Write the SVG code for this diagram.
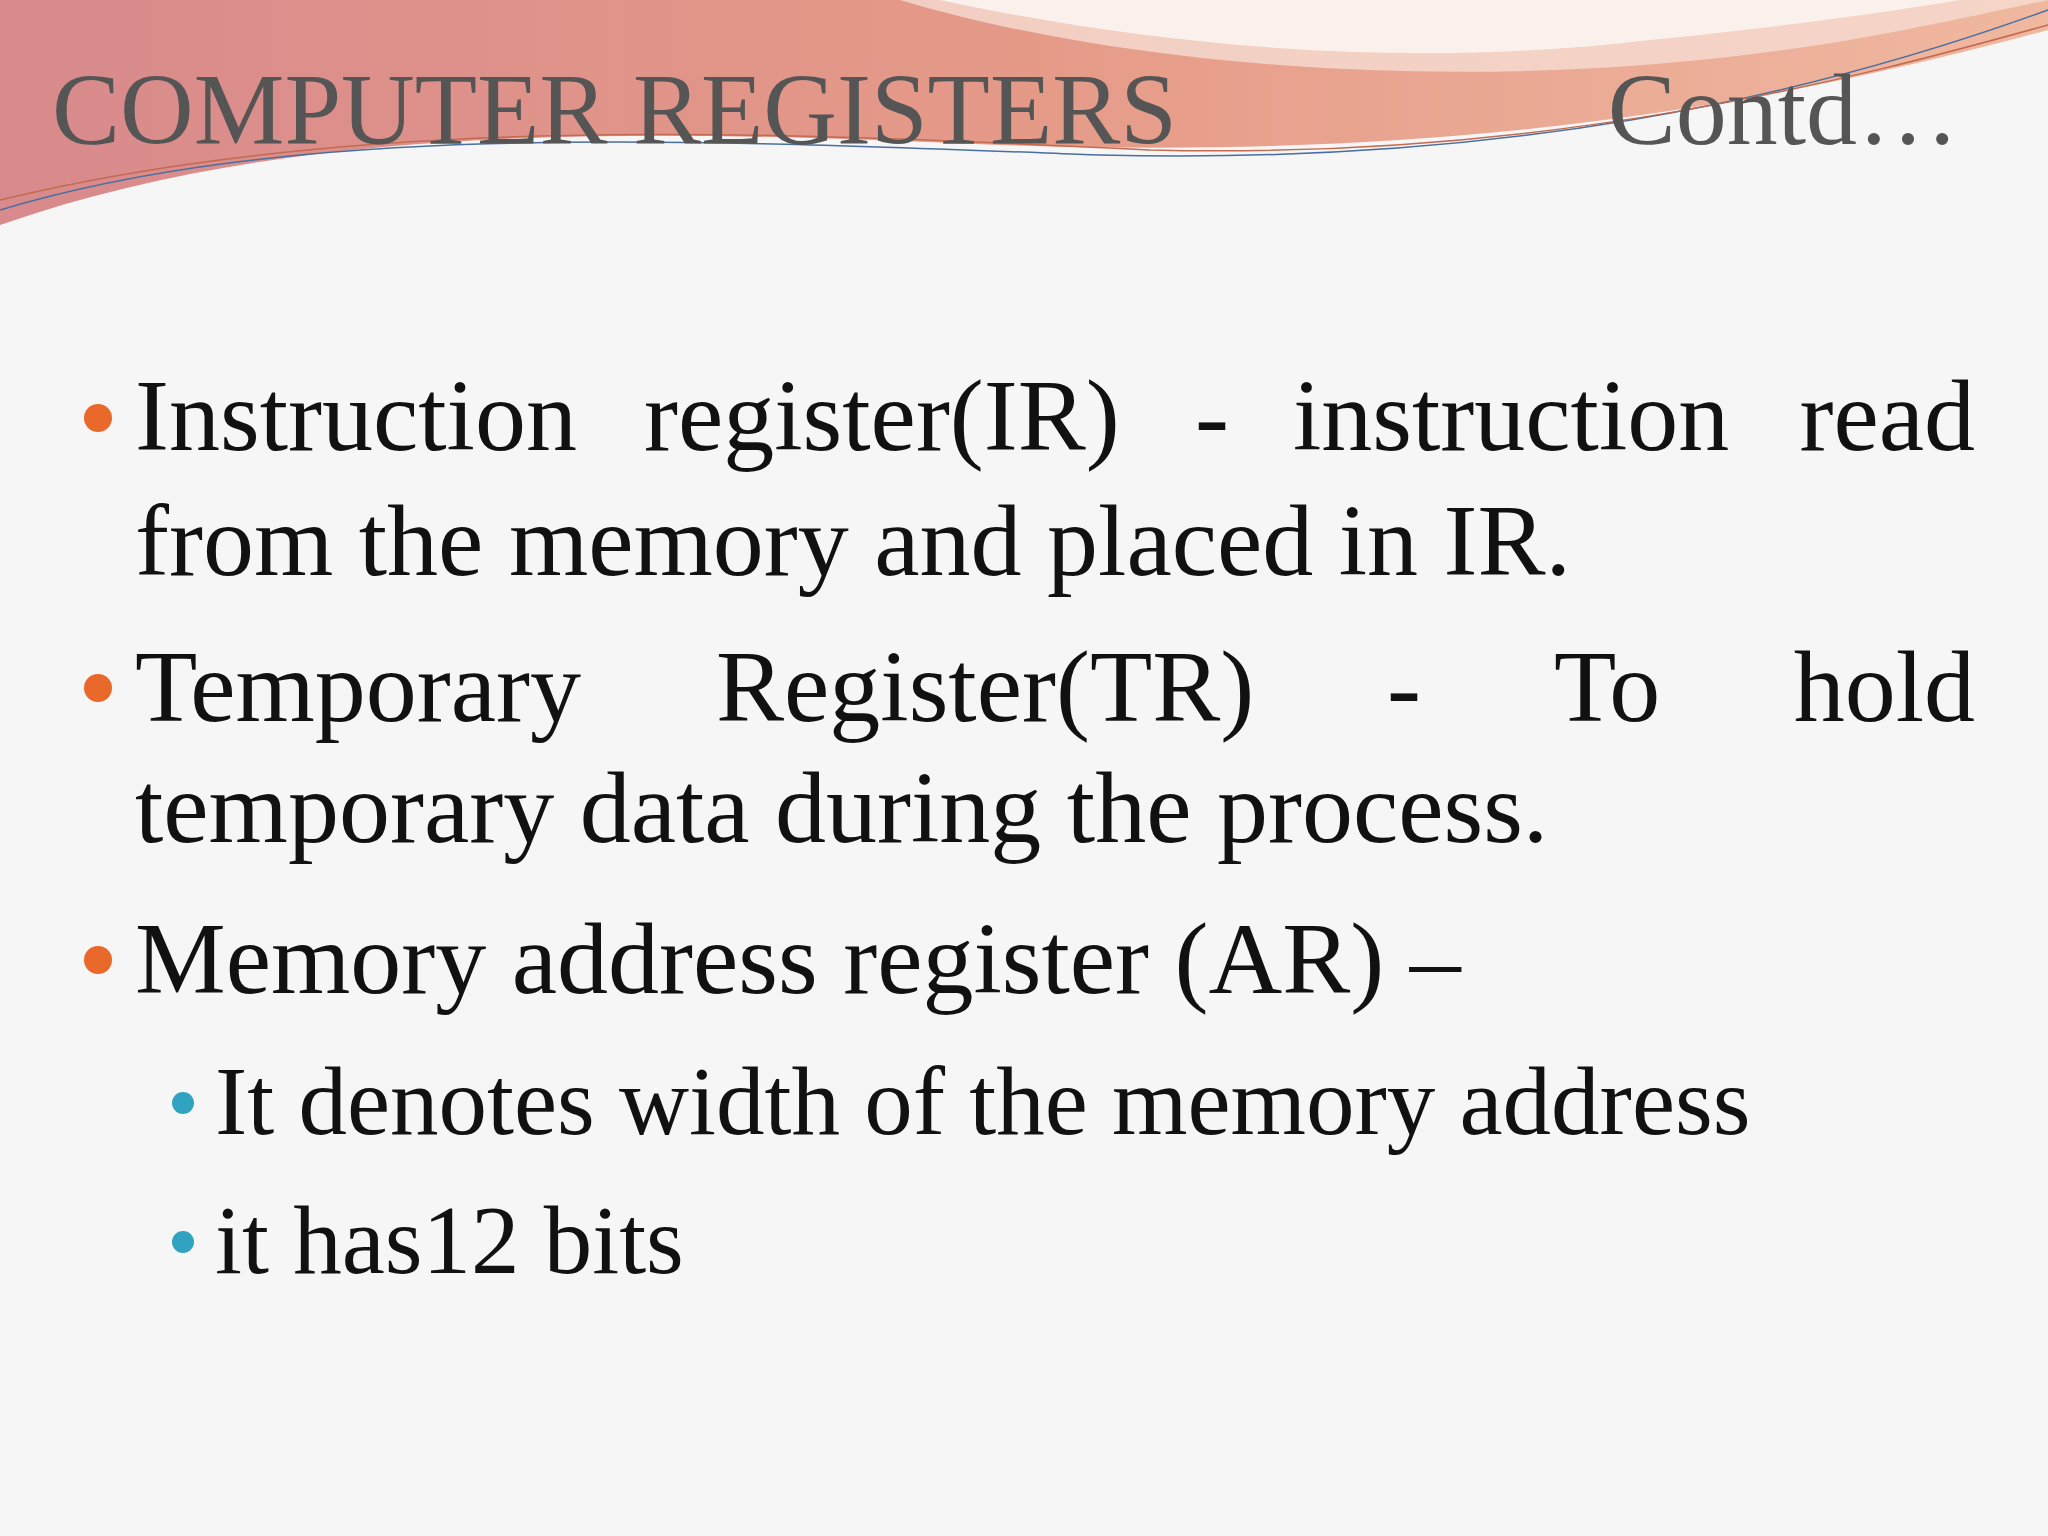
<svg xmlns="http://www.w3.org/2000/svg" width="2048" height="1536" viewBox="0 0 2048 1536">
<defs>
<linearGradient id="hg" x1="0" y1="0" x2="1" y2="0">
<stop offset="0" stop-color="#d88a8c"/><stop offset="0.5" stop-color="#e59a88"/><stop offset="1" stop-color="#f0b8a0"/>
</linearGradient>
<style>
.t{font-family:"Liberation Serif",serif;fill:#111;font-size:102px}
.s{font-family:"Liberation Serif",serif;fill:#111;font-size:97px}
.h{font-family:"Liberation Serif",serif;fill:#555;font-size:102px}
.ob{fill:#e8692a}.cb{fill:#2fa3c0}
</style>
</defs>
<rect width="2048" height="1536" fill="#f6f6f6"/>
<g id="header">
<path d="M0 0 H2048 V30 C1750 110 1450 160 1000 145 C 650 130 300 120 0 225 Z" fill="url(#hg)"/>
<path d="M900 0 C1100 60 1400 90 1700 60 C1850 45 1950 20 2048 0 Z" fill="#f6dcd2" opacity="0.8"/>
<path d="M940 0 C1150 45 1400 70 1650 40 C1800 25 1900 10 1960 0 Z" fill="#fbf1ec"/>
<path d="M0 210 C300 120 700 140 1100 155 C1500 165 1800 100 2048 10" fill="none" stroke="#4a6fa0" stroke-width="1.5"/>
<path d="M0 200 C350 115 750 130 1150 150 C1550 160 1850 80 2048 25" fill="none" stroke="#c46a50" stroke-width="1.5"/>
</g>
<g id="title">
<text class="h" x="52" y="144">COMPUTER REGISTERS</text>
<text class="h" x="1959" y="144" text-anchor="end">Contd…</text>
</g>
<g id="b1">
<circle class="ob" cx="98" cy="418" r="14"/>
<text class="t" x="135" y="450">Instruction</text>
<text class="t" x="644" y="450">register(IR)</text>
<text class="t" x="1195" y="450">-</text>
<text class="t" x="1293" y="450">instruction</text>
<text class="t" x="1975" y="450" text-anchor="end">read</text>
<text class="t" x="135" y="575">from the memory and placed in IR.</text>
</g>
<g id="b2">
<circle class="ob" cx="98" cy="688" r="14"/>
<text class="t" x="135" y="721">Temporary</text>
<text class="t" x="716" y="721">Register(TR)</text>
<text class="t" x="1387" y="721">-</text>
<text class="t" x="1554" y="721">To</text>
<text class="t" x="1975" y="721" text-anchor="end">hold</text>
<text class="t" x="135" y="842">temporary data during the process.</text>
</g>
<g id="b3">
<circle class="ob" cx="98" cy="960" r="14"/>
<text class="t" x="135" y="993">Memory address register (AR) –</text>
</g>
<g id="s1">
<circle class="cb" cx="183" cy="1103" r="11"/>
<text class="s" x="215" y="1134">It denotes width of the memory address</text>
</g>
<g id="s2">
<circle class="cb" cx="183" cy="1242" r="11"/>
<text class="s" x="215" y="1273">it has12 bits</text>
</g>
</svg>
